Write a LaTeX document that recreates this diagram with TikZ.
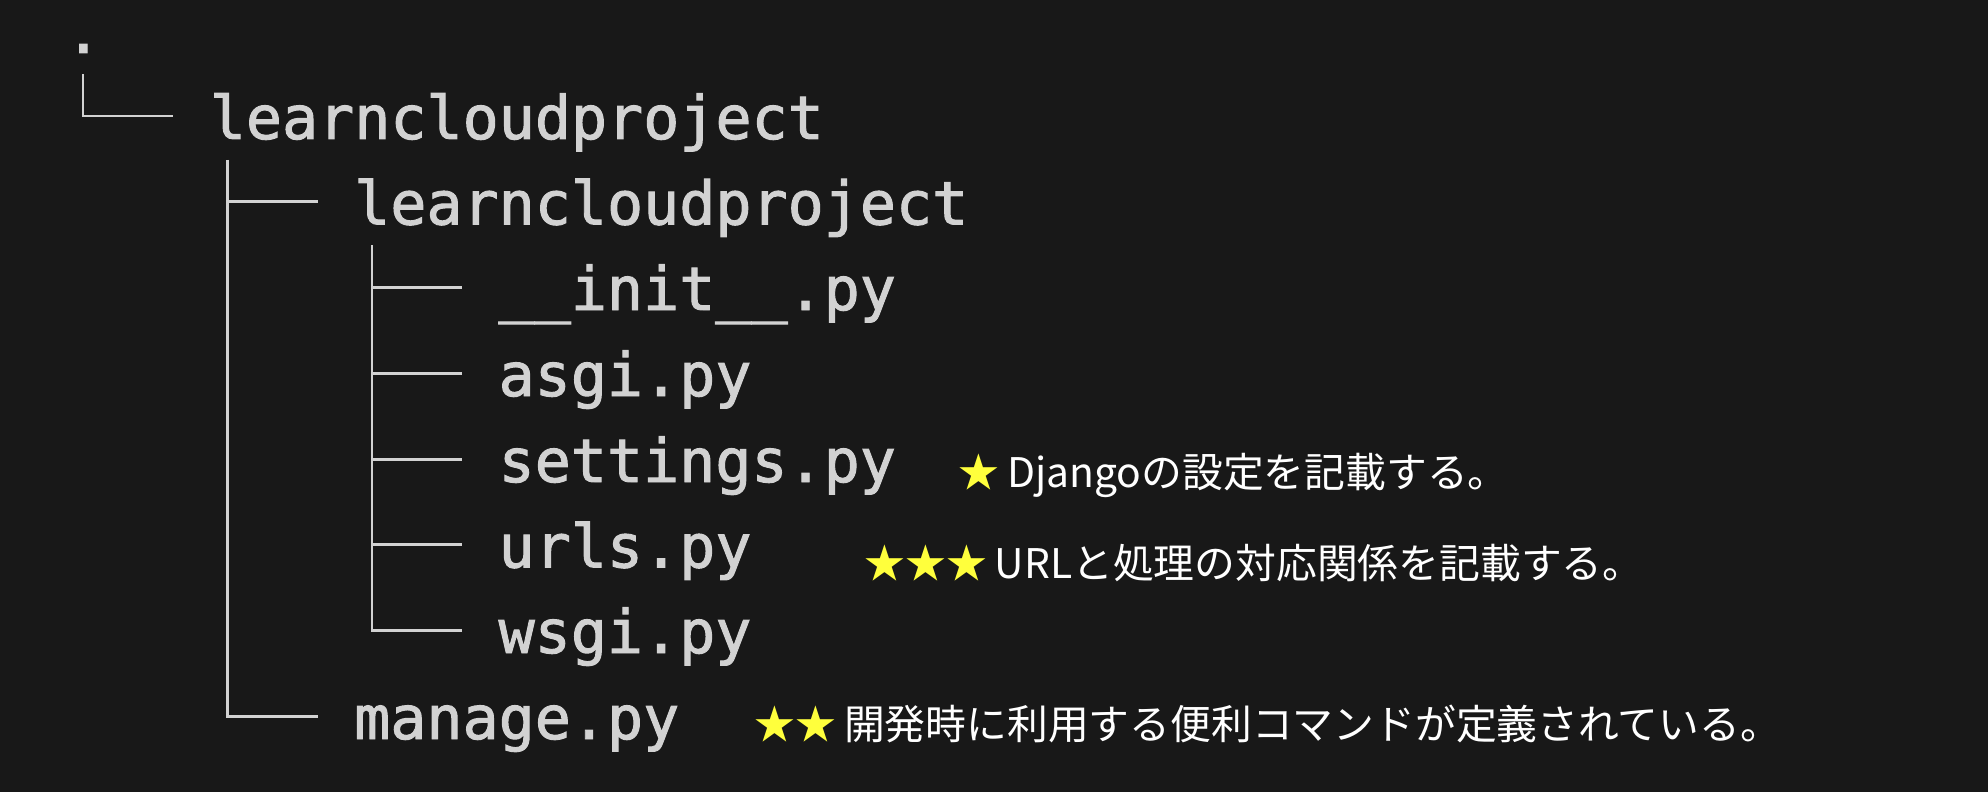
\documentclass[tikz,border=0pt]{standalone}
\usepackage{fontspec}
\newfontfamily\treefont{DejaVu Sans Mono}[FakeBold=1.6]
\newfontfamily\notefont{Noto Sans CJK JP}
\usepackage{xcolor}
\definecolor{termbg}{HTML}{181818}
\definecolor{treegray}{HTML}{D2D2D2}
\definecolor{staryellow}{HTML}{FFFF3C}

\tikzset{
  entry/.style={anchor=base west, inner sep=0pt, text=treegray,
    font=\treefont\fontsize{30}{36}\selectfont, text height=27pt, text depth=4.2pt},
  note/.style={anchor=base west, inner sep=0pt, text=white,
    font=\notefont\fontsize{20.4}{24}\selectfont},
  branch/.style={draw=treegray, line width=1.3pt, shorten <=6pt, shorten >=18pt}
}
\newcommand{\stars}[1]{\textcolor{staryellow}{#1}\hspace{4pt}}

\begin{document}
\begin{tikzpicture}[x=0.5pt,y=0.5pt,yscale=-1,xscale=1]
\useasboundingbox[fill=termbg] (0,0) rectangle (1988,792);

% Text Node
\node[entry] (root) at (65,53) {.};
\node[entry] (proj) at (209.4,139) {learncloudproject};
\node[entry] (pkg) at (353.8,224.5) {learncloudproject};
\node[entry] (init) at (498.2,310) {\_\_init\_\_.py};
\node[entry] (asgi) at (498.2,396) {asgi.py};
\node[entry] (settings) at (498.2,482) {settings.py};
\node[entry] (urls) at (498.2,567.5) {urls.py};
\node[entry] (wsgi) at (498.2,653) {wsgi.py};
\node[entry] (manage) at (353.8,739) {manage.py};

%Straight Lines
\draw[branch] ([xshift=9pt]root.south west) |- (proj.west);
\draw[branch] ([xshift=9pt]proj.south west) |- (pkg.west);
\draw[branch] ([xshift=9pt]proj.south west) |- (manage.west);
\foreach \f in {init,asgi,settings,urls,wsgi}
  \draw[branch] ([xshift=9pt]pkg.south west) |- (\f.west);

% Text Node
\node[note] (settingsnote) at (958,487) {\stars{★}Djangoの設定を記載する。};
\node[note] (urlsnote) at (864,578) {\stars{★★★}URLと処理の対応関係を記載する。};
\node[note] (managenote) at (754,739) {\stars{★★}開発時に利用する便利コマンドが定義されている。};

\end{tikzpicture}
\end{document}
